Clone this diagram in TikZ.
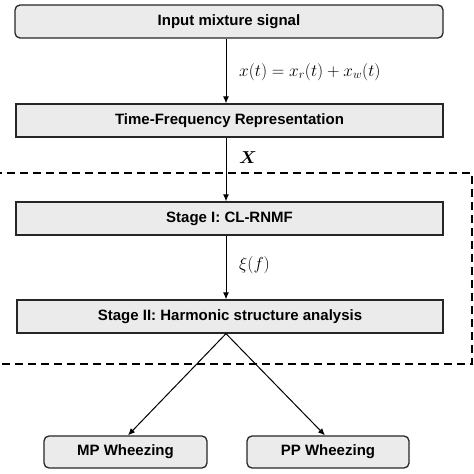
\documentclass[tikz,border=0pt]{standalone}
\usepackage{amsmath,amssymb}
\usepackage{fontspec}
\newfontfamily\boxfont{Liberation Sans}
\usetikzlibrary{arrows.meta}

\begin{document}
\begin{tikzpicture}[x=1pt, y=1pt,
	every node/.style={inner sep=0pt},
	block/.style={draw=black!85, line width=1.3pt, fill=black!8, minimum height=33pt, font=\boxfont\bfseries\fontsize{15}{18}\selectfont},
	roundblock/.style={block, rounded corners=5pt},
	flow/.style={line width=1pt, -{Latex[length=7pt,width=6pt]}},
	lbl/.style={anchor=west, font=\fontsize{16.5}{19}\selectfont}]
	\useasboundingbox (0,0) rectangle (474,474);
	% boxes
	\node[roundblock, minimum width=428pt] (inp) at (229,452.5) {Input mixture signal};
	\node[block, minimum width=427pt] (tfr) at (229.5,353.5) {Time-Frequency Representation};
	\node[block, minimum width=427pt] (st1) at (229.5,255.5) {Stage I: CL-RNMF};
	\node[block, minimum width=426pt] (st2) at (230,157.5) {Stage II: Harmonic structure analysis};
	\node[roundblock, minimum width=163pt, minimum height=32pt] (mp) at (125.5,22) {MP Wheezing};
	\node[roundblock, minimum width=162pt, minimum height=32pt] (pp) at (328,22) {PP Wheezing};
	% dashed frame round the two stages
	\draw[line width=1.8pt, dash pattern=on 8pt off 5pt] (-10,110) rectangle (472,301);
	% connectors
	\draw[flow] ([xshift=-3pt]inp.south) -- ([xshift=-3.5pt]tfr.north);
	\draw[flow] ([xshift=-3.5pt]tfr.south) -- ([xshift=-3.5pt]st1.north);
	\draw[flow] ([xshift=-3.5pt]st1.south) -- ([xshift=-4pt]st2.north);
	\draw[flow] ([xshift=-4pt]st2.south) -- ([xshift=2.5pt]mp.north);
	\draw[flow] ([xshift=-4pt]st2.south) -- ([xshift=-3pt]pp.north);
	% signal labels
	\node[lbl] (sig) at (239,402) {$x(t) = x_r(t) + x_w(t)$};
	\node[lbl] (tfx) at (239,316) {$\boldsymbol{X}$};
	\node[lbl] (xif) at (239,209) {$\xi(f)$};
\end{tikzpicture}
\end{document}
